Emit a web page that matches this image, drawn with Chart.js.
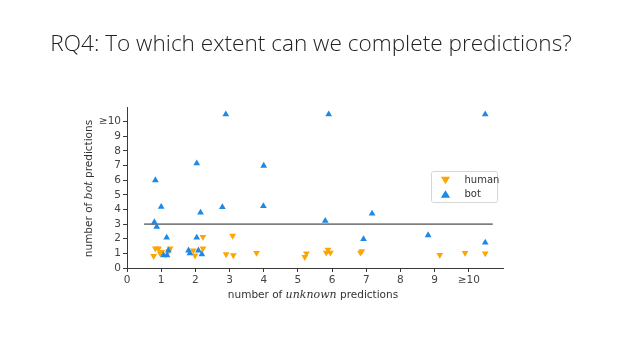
<!DOCTYPE html>
<html>
<head>
<meta charset="utf-8">
<script src="https://cdn.jsdelivr.net/npm/chart.js@4.4.1/dist/chart.umd.min.js"></script>
<style>
  html, body { margin: 0; padding: 0; background: #ffffff; }
  #wrap { position: relative; width: 638px; height: 359px; }
</style>
</head>
<body>
<div id="wrap"><canvas id="c" width="638" height="359"></canvas></div>
<script>
// ---- data ----
const titleText = "RQ4: To which extent can we complete predictions?";
const seriesLabels = ["human", "bot"];

const humanX = [0.78, 0.83, 0.92, 0.97, 1.02, 1.26, 1.22, 1.94, 1.99, 2.22, 2.22, 2.90, 3.11, 3.09, 3.79, 5.20, 5.25, 5.83, 5.88, 5.95, 6.83, 6.87, 9.15, 9.89, 10.48];
const humanY = [0.82, 1.33, 1.33, 1.00, 1.10, 1.33, 1.15, 1.20, 0.85, 1.33, 2.12, 0.94, 0.87, 2.20, 1.03, 0.75, 1.00, 1.05, 1.25, 1.05, 1.05, 1.15, 0.90, 1.03, 1.00];

const botX = [2.89, 5.90, 10.48, 2.04, 4.00, 0.83, 1.00, 2.79, 3.99, 2.15, 0.80, 0.87, 1.16, 2.04, 1.07, 1.17, 1.21, 1.80, 1.84, 2.09, 2.19, 7.17, 5.80, 6.92, 8.81, 10.48];
const botY = [10.5, 10.5, 10.5, 7.15, 6.99, 6.00, 4.18, 4.16, 4.23, 3.79, 3.13, 2.81, 2.08, 2.08, 0.87, 0.87, 1.20, 1.20, 1.00, 1.20, 0.94, 3.72, 3.22, 1.97, 2.24, 1.74];

const thresholdX = [0.5, 10.7];
const thresholdY = [3, 3];

const xTickValues = [0, 1, 2, 3, 4, 5, 6, 7, 8, 9, 10];
const xTickLabels = ["0", "1", "2", "3", "4", "5", "6", "7", "8", "9", "\u226510"];
const yTickValues = [0, 1, 2, 3, 4, 5, 6, 7, 8, 9, 10];
const yTickLabels = ["0", "1", "2", "3", "4", "5", "6", "7", "8", "9", "\u226510"];

const xTitleParts = [["number of ", false], ["unknown", true], [" predictions", false]];
const yTitleParts = [["number of ", false], ["bot", true], [" predictions", false]];

// ---- styles ----
const ORANGE = "#ffa500";
const BLUE = "#1e88e5";
const AXIS = "#3a3a3a";
const TICKTXT = "#444444";
const LABELFONT = "DejaVu Sans";

const toPts = (xs, ys) => xs.map((x, i) => ({ x: x, y: ys[i] }));

const overlay = {
  id: "overlay",
  afterDraw(chart) {
    const ctx = chart.ctx;
    const area = chart.chartArea;
    ctx.save();
    // slide title
    ctx.fillStyle = "#222222";
    ctx.font = "300 22.6px 'Open Sans'";
    ctx.textAlign = "center";
    ctx.textBaseline = "alphabetic";
    ctx.fillText(titleText, 311, 51);

    // axis titles with italic segment
    const drawParts = (parts) => {
      let total = 0;
      const widths = parts.map(([t, it]) => {
        ctx.font = it ? "italic 11px 'DejaVu Serif'" : "10.5px " + LABELFONT;
        const w = ctx.measureText(t).width; total += w; return w;
      });
      let x = -total / 2;
      parts.forEach(([t, it], i) => {
        ctx.font = it ? "italic 11px 'DejaVu Serif'" : "10.5px " + LABELFONT;
        ctx.fillText(t, x, 0);
        x += widths[i];
      });
    };
    ctx.fillStyle = "#333333";
    ctx.textAlign = "left";
    ctx.textBaseline = "middle";
    ctx.save();
    ctx.translate((area.left + area.right) / 2 - 2, 295);
    drawParts(xTitleParts);
    ctx.restore();
    ctx.save();
    ctx.translate(89, (area.top + area.bottom) / 2 + 1);
    ctx.rotate(-Math.PI / 2);
    drawParts(yTitleParts);
    ctx.restore();

    // legend
    const lx = 431.5, ly = 171.5, lw = 66, lh = 31;
    ctx.fillStyle = "rgba(255,255,255,0.85)";
    ctx.strokeStyle = "#d6d6d6";
    ctx.lineWidth = 1;
    ctx.beginPath();
    if (ctx.roundRect) ctx.roundRect(lx, ly, lw, lh, 2); else ctx.rect(lx, ly, lw, lh);
    ctx.fill(); ctx.stroke();
    const entries = [0, 1].map(i => chart.data.datasets[i]);
    entries.forEach((ds, i) => {
      const cy = ly + 8.5 + i * 14.5;
      const cx = lx + 14;
      ctx.fillStyle = ds.backgroundColor;
      ctx.beginPath();
      const r = 4.6;
      if (ds.rotation === 180) {
        ctx.moveTo(cx - r, cy - r * 0.7); ctx.lineTo(cx + r, cy - r * 0.7); ctx.lineTo(cx, cy + r * 0.9);
      } else {
        ctx.moveTo(cx - r, cy + r * 0.7); ctx.lineTo(cx + r, cy + r * 0.7); ctx.lineTo(cx, cy - r * 0.9);
      }
      ctx.closePath(); ctx.fill();
      ctx.fillStyle = "#333333";
      ctx.font = "10px " + LABELFONT;
      ctx.textAlign = "left";
      ctx.textBaseline = "middle";
      ctx.fillText(ds.label, lx + 33, cy);
    });
    ctx.restore();
  }
};

new Chart(document.getElementById("c"), {
  type: "scatter",
  data: {
    datasets: [
      {
        label: seriesLabels[0],
        data: toPts(humanX, humanY),
        pointStyle: "triangle",
        rotation: 180,
        pointRadius: 3.9,
        backgroundColor: ORANGE,
        borderColor: ORANGE,
        borderWidth: 0,
        order: 2
      },
      {
        label: seriesLabels[1],
        data: toPts(botX, botY),
        pointStyle: "triangle",
        rotation: 0,
        pointRadius: 3.9,
        backgroundColor: BLUE,
        borderColor: BLUE,
        borderWidth: 0,
        order: 1
      },
      {
        label: "threshold",
        data: toPts(thresholdX, thresholdY),
        showLine: true,
        pointRadius: 0,
        borderColor: "#222222",
        borderWidth: 1,
        backgroundColor: "#222222",
        order: 3
      }
    ]
  },
  options: {
    responsive: false,
    animation: false,
    layout: { padding: { left: 0, right: 135, top: 107, bottom: 0 } },
    plugins: {
      legend: { display: false },
      title: { display: false },
      tooltip: { enabled: false }
    },
    scales: {
      x: {
        type: "linear",
        min: 0,
        max: 11,
        afterFit(s) { s.height = 91; },
        afterBuildTicks(s) { s.ticks = xTickValues.map(v => ({ value: v })); },
        ticks: {
          autoSkip: false,
          maxRotation: 0,
          padding: 2,
          color: TICKTXT,
          font: { family: LABELFONT, size: 10.5 },
          callback: (v) => xTickLabels[xTickValues.indexOf(v)]
        },
        grid: { drawOnChartArea: false, drawTicks: true, tickLength: 4, color: AXIS, lineWidth: 1 },
        border: { display: true, color: AXIS, width: 1 }
      },
      y: {
        type: "linear",
        min: 0,
        max: 11,
        afterFit(s) { s.width = 127; },
        afterBuildTicks(s) { s.ticks = yTickValues.map(v => ({ value: v })); },
        ticks: {
          autoSkip: false,
          padding: 2,
          color: TICKTXT,
          font: { family: LABELFONT, size: 10.5 },
          callback: (v) => yTickLabels[yTickValues.indexOf(v)]
        },
        grid: { drawOnChartArea: false, drawTicks: true, tickLength: 4, color: AXIS, lineWidth: 1 },
        border: { display: true, color: AXIS, width: 1 }
      }
    }
  },
  plugins: [overlay]
});
</script>
</body>
</html>
